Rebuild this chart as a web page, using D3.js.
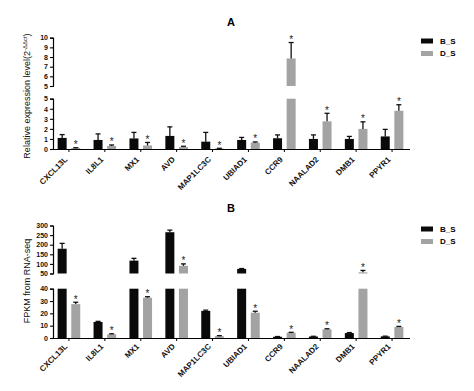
<!DOCTYPE html>
<html>
<head>
<meta charset="utf-8">
<script src="https://cdn.jsdelivr.net/npm/d3@7"></script>
<style>
  body { margin: 0; background: #fff; }
  svg text { font-family: "Liberation Sans", Arial, sans-serif; }
</style>
</head>
<body>
<div id="container"></div>
<script>
// Genes on the x axis (same for both panels)
const genes = ['CXCL13L', 'IL8L1', 'MX1', 'AVD', 'MAP1LC3C', 'UBIAD1', 'CCR9', 'NAALAD2', 'DMB1', 'PPYR1'];
const groups = ['B_S', 'D_S'];

// Panel A: qPCR relative expression (2^-ddCt), mean and SD
const qpcrB    = [1.1, 0.9, 1.05, 1.3, 0.73, 0.9, 1.07, 1.0, 1.0, 1.25];
const qpcrBErr = [0.33, 0.6, 0.6, 0.9, 0.92, 0.25, 0.33, 0.4, 0.25, 0.7];
const qpcrD    = [0.1, 0.3, 0.35, 0.2, 0.05, 0.63, 7.85, 2.75, 2.0, 3.8];
const qpcrDErr = [0.03, 0.1, 0.3, 0.07, 0.02, 0.07, 1.65, 0.8, 0.7, 0.6];

// Panel B: FPKM from RNA-seq, mean and SD
const fpkmB    = [179, 13, 117, 265, 22, 74, 1.0, 1.2, 4.0, 1.3];
const fpkmBErr = [28, 0.5, 12, 11, 0.6, 2, 0.2, 0.2, 0.4, 0.2];
const fpkmD    = [27.5, 3.0, 32.7, 90, 1.5, 20.5, 4.3, 7.0, 56, 8.9];
const fpkmDErr = [1.5, 0.4, 0.8, 10, 0.4, 1.2, 0.3, 0.5, 10, 0.5];

// Broken y axis segments and tick labels
const ticksATop = [5, 6, 7, 8, 9, 10];
const ticksABot = [0, 1, 2, 3, 4, 5];
const ticksBTop = [50, 100, 150, 200, 250, 300];
const ticksBBot = [0, 10, 20, 30, 40];

const W = 474, H = 391;
const colors = { 'B_S': '#0a0a0a', 'D_S': '#a3a3a3' };

const svg = d3.select('#container').append('svg')
  .attr('width', W).attr('height', H);

const x = d3.scaleBand().domain(genes).range([51, 410]);
const barW = 9, offset = 6.8;

function drawPanel(cfg) {
  const g = svg.append('g');
  const segs = cfg.segments.map(s => ({
    lo: s.domain[0], hi: s.domain[1],
    y: d3.scaleLinear().domain(s.domain).range(s.range),
    ticks: s.ticks
  }));

  // y axis segments
  segs.forEach(s => {
    g.append('g')
      .attr('transform', 'translate(53,0)')
      .call(d3.axisLeft(s.y).tickValues(s.ticks).tickSize(3).tickPadding(2).tickFormat(d3.format('d')))
      .call(a => a.selectAll('text').attr('font-size', 7).attr('font-weight', 'bold').attr('fill', '#111'))
      .call(a => a.select('.domain').attr('stroke-width', 1.2))
      .call(a => a.selectAll('.tick line').attr('stroke-width', 1.1));
  });

  // x axis
  const base = segs[0].y(0);
  g.append('g')
    .attr('transform', `translate(0,${base})`)
    .call(d3.axisBottom(x).tickSize(3).tickSizeOuter(0))
    .call(a => a.select('.domain').attr('d', 'M53,0.5H410').attr('stroke-width', 1.2))
    .call(a => a.selectAll('text')
      .attr('font-size', 8).attr('font-weight', 'bold').attr('fill', '#111')
      .attr('text-anchor', 'end')
      .attr('x', 0).attr('y', 0)
      .attr('transform', `translate(-3,${cfg.labelDy}) rotate(-45)`)
      .attr('dy', '0.35em'));

  // bars, drawn piecewise across the axis segments
  const series = [
    { key: 'B_S', vals: cfg.b, errs: cfg.bErr, dx: -offset },
    { key: 'D_S', vals: cfg.d, errs: cfg.dErr, dx: offset, star: true }
  ];
  series.forEach(sr => {
    genes.forEach((gene, i) => {
      const cx = x(gene) + x.bandwidth() / 2 + sr.dx;
      const v = sr.vals[i], top = v + sr.errs[i];
      let starY = null;
      segs.forEach(s => {
        if (v > s.lo) {
          const vv = Math.min(v, s.hi);
          g.append('rect')
            .attr('x', cx - barW / 2).attr('width', barW)
            .attr('y', s.y(vv)).attr('height', s.y(s.lo) - s.y(vv))
            .attr('fill', colors[sr.key]);
        }
        // error bar (upper half only)
        const e0 = Math.max(v, s.lo), e1 = Math.min(top, s.hi);
        if (e1 > e0 || (top >= s.lo && top <= s.hi)) {
          g.append('line')
            .attr('x1', cx).attr('x2', cx)
            .attr('y1', s.y(Math.max(e0, s.lo))).attr('y2', s.y(e1))
            .attr('stroke', '#111').attr('stroke-width', 1.3);
        }
        if (top >= s.lo && top <= s.hi) {
          g.append('line')
            .attr('x1', cx - 2.5).attr('x2', cx + 2.5)
            .attr('y1', s.y(top)).attr('y2', s.y(top))
            .attr('stroke', '#111').attr('stroke-width', 1.3);
          starY = s.y(top);
        }
      });
      if (sr.star && starY !== null) {
        g.append('text')
          .attr('x', cx).attr('y', starY + 0.5)
          .attr('text-anchor', 'middle')
          .attr('font-size', 10).attr('fill', '#222')
          .text('*');
      }
    });
  });

  // panel letter
  g.append('text')
    .attr('x', 231).attr('y', cfg.titleY)
    .attr('text-anchor', 'middle')
    .attr('font-family', '"Liberation Serif", "Times New Roman", serif')
    .attr('font-weight', 'bold').attr('font-size', 11)
    .text(cfg.title);

  // y axis label
  const lab = g.append('text')
    .attr('transform', `translate(30,${cfg.labelY}) rotate(-90)`)
    .attr('text-anchor', 'middle')
    .attr('font-size', 9).attr('fill', '#111');
  cfg.label(lab);

  // legend
  groups.forEach((k, j) => {
    g.append('rect')
      .attr('x', 421).attr('y', cfg.legendY + j * 12.5 - 2.5)
      .attr('width', 12).attr('height', 5)
      .attr('fill', colors[k]);
    g.append('text')
      .attr('x', 440).attr('y', cfg.legendY + j * 12.5)
      .attr('dy', '0.35em')
      .attr('font-family', '"Liberation Serif", "Times New Roman", serif')
      .attr('font-weight', 'bold').attr('font-size', 8)
      .text(k);
  });
}

drawPanel({
  title: 'A', titleY: 26, labelY: 96, legendY: 41, labelDy: 9,
  segments: [
    { domain: [0, 5], range: [149, 98.7], ticks: ticksABot },
    { domain: [5, 10], range: [86, 37.7], ticks: ticksATop }
  ],
  b: qpcrB, bErr: qpcrBErr, d: qpcrD, dErr: qpcrDErr,
  label: t => {
    t.append('tspan').text('Relative expression level(2');
    t.append('tspan').attr('font-size', 6).attr('dy', '-0.5em').text('-\u0394\u0394ct');
    t.append('tspan').attr('dy', '0.3em').text(')');
  }
});

drawPanel({
  title: 'B', titleY: 212, labelY: 281, legendY: 229, labelDy: 7,
  segments: [
    { domain: [0, 40], range: [338, 288.7], ticks: ticksBBot },
    { domain: [50, 300], range: [273.5, 225.5], ticks: ticksBTop }
  ],
  b: fpkmB, bErr: fpkmBErr, d: fpkmD, dErr: fpkmDErr,
  label: t => t.text('FPKM from RNA-seq')
});
</script>
</body>
</html>
